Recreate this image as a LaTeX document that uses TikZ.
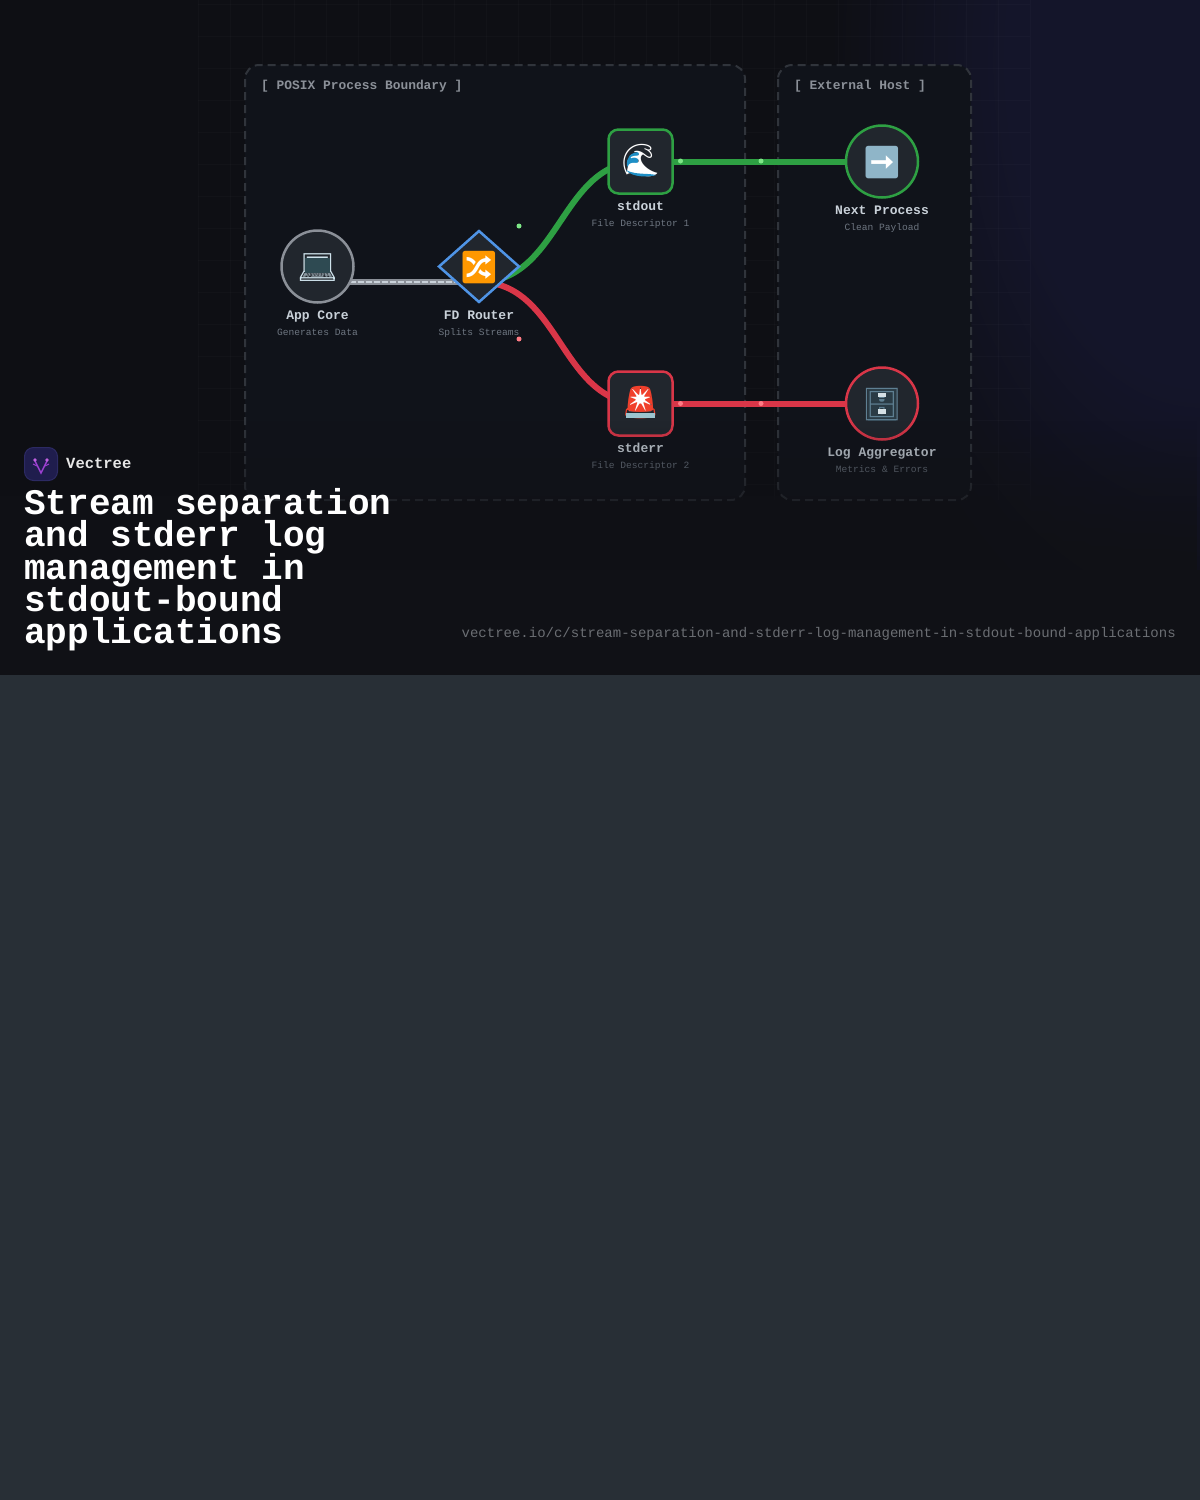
\documentclass[tikz,border=0pt]{standalone}
\usepackage{fontspec}
\setmonofont{Liberation Mono}
\newfontfamily\emojifont{Noto Emoji}
\usetikzlibrary{shapes.geometric,fadings,backgrounds}
\lineskiplimit=-100pt
\definecolor{pagebase}{HTML}{282F36}
\definecolor{panel}{HTML}{0E0F14}
\definecolor{panelend}{HTML}{101116}
\definecolor{glow}{HTML}{14152A}
\definecolor{groupfill}{HTML}{10131A}
\definecolor{groupline}{HTML}{30343B}
\definecolor{nodefill}{HTML}{21262D}
\definecolor{greyc}{HTML}{8B9098}
\definecolor{bluec}{HTML}{4F94E6}
\definecolor{greenc}{HTML}{2EA043}
\definecolor{redc}{HTML}{D93648}
\definecolor{greendot}{HTML}{7EE787}
\definecolor{reddot}{HTML}{FF7B85}
\definecolor{labelc}{HTML}{C9D1D9}
\definecolor{subc}{HTML}{6E7681}
\definecolor{screenc}{HTML}{2E4A52}
\definecolor{laptopc}{HTML}{CFE3EC}
\definecolor{orangec}{HTML}{FF9800}
\definecolor{wavec}{HTML}{1E8FC6}
\definecolor{arrowbox}{HTML}{8FB5C8}
\definecolor{sirenc}{HTML}{F0402C}
\definecolor{sirenbase}{HTML}{9CC4CF}
\definecolor{cabinetc}{HTML}{5F8093}
\definecolor{cabinetd}{HTML}{2A3B45}
\definecolor{cabinetl}{HTML}{D5E0E5}
\definecolor{logofill}{HTML}{1F1D4D}
\definecolor{logoline}{HTML}{2C2A63}
\definecolor{logov}{HTML}{9B3FD0}
\definecolor{logodot}{HTML}{C060E0}
\definecolor{brandc}{HTML}{E6E6E6}
\definecolor{urlc}{HTML}{6B6E73}
\pgfdeclareradialshading{glowshade}{\pgfpointorigin}{color(0bp)=(glow); color(13bp)=(glow); color(25bp)=(panel); color(50bp)=(panel)}
\pgfdeclarelayer{bgl}\pgfdeclarelayer{edgel}\pgfdeclarelayer{veil}\pgfdeclarelayer{topl}
\pgfsetlayers{bgl,edgel,main,veil,topl}
\tikzset{
  circnode/.style={circle,draw=#1,fill=nodefill,line width=2.5pt,minimum size=72pt,inner sep=0pt},
  squarenode/.style={rectangle,rounded corners=10pt,draw=#1,fill=nodefill,line width=2.5pt,minimum size=64pt,inner sep=0pt},
  diamondnode/.style={diamond,draw=#1,fill=nodefill,line width=2.5pt,minimum width=81pt,minimum height=72pt,inner sep=0pt,aspect=1.12},
  emo/.style={font=\emojifont\fontsize{32}{32}\selectfont,inner sep=0pt},
  lab/.style={font=\ttfamily\bfseries\fontsize{13}{13}\selectfont,text=labelc,inner sep=0pt,anchor=base},
  sublab/.style={font=\ttfamily\fontsize{9.6}{10}\selectfont,text=subc,inner sep=0pt,anchor=base},
  grp/.style={draw=groupline,fill=groupfill,line width=2pt,rounded corners=14pt,dash pattern=on 8pt off 5pt},
  grplab/.style={font=\ttfamily\bfseries\fontsize{12.9}{14}\selectfont,text=greyc,inner sep=0pt,anchor=base west},
  flow/.style={line width=6pt,draw=#1},
  gridline/.style={white,opacity=.018,line width=.7pt},
}
\begin{document}
\begin{tikzpicture}[x=1pt,y=-1pt]
\useasboundingbox (0,0) rectangle (1200,1500);
\begin{pgfonlayer}{bgl}
\fill[panel] (0,0) rectangle (1200,675);
\begin{scope}
\clip (0,0) rectangle (1200,675);
\shade[shading=glowshade,shift={(1200,60)}] (0,0) ellipse [x radius=370pt,y radius=620pt];
\end{scope}
\foreach \gx in {198,230,...,1030}{\draw[gridline] (\gx,0) -- (\gx,500);}
\foreach \gy in {4,36,...,500}{\draw[gridline] (198,\gy) -- (1030,\gy);}
\draw[grp] (245,65) rectangle (745,500);
\draw[grp] (778,65) rectangle (971,500);
\node[grplab] (posix) at (261,89) {[ POSIX Process Boundary ]};
\node[grplab] (exthost) at (794,89) {[ External Host ]};
\end{pgfonlayer}

% nodes
\node[circnode=greyc] (app) at (317.5,266.5) {};
\node[diamondnode=bluec] (router) at (479,266.5) {};
\node[squarenode=greenc] (stdout) at (640.5,161.5) {};
\node[squarenode=redc] (stderr) at (640.5,403.5) {};
\node[circnode=greenc] (next) at (882,161.5) {};
\node[circnode=redc] (logs) at (882,403.5) {};

% icon backings
\fill[white] (466,255) rectangle (492,281);
\fill[wavec] (627,166) .. controls (635,176) and (650,176) .. (656,174) .. controls (640,170) and (634,160) .. (640,152) .. controls (630,152) and (626,158) .. (627,166);
\fill[white] (868,150) rectangle (896,176);
\fill[white] (631,389) -- (649,389) -- (651,411) -- (629,411) -- cycle;
\fill[cabinetd] (868,389) rectangle (896,421);

% icons
\node[emo,text=laptopc] (iapp) at (317.5,268) {💻};
\node[emo,text=orangec] (irouter) at (479,268) {🔀};
\node[emo,text=white] (iout) at (640.5,161) {🌊};
\node[emo,text=arrowbox] (inext) at (882,163) {➡};
\node[emo,text=sirenc] (ierr) at (640.5,403) {🚨};
\node[emo,text=cabinetc] (ilogs) at (882,405) {🗄};

% icon details over the glyphs
\fill[screenc] (305,257.5) rectangle (330,273);
\fill[wavec] (626,170) .. controls (634,175) and (648,173) .. (656,175) .. controls (650,177) and (632,178) .. (626,170) -- cycle;
\fill[sirenbase] (626,412.5) rectangle (655,418);
\fill[cabinetl] (878,392.5) rectangle (886,397);
\fill[cabinetl] (878,409) rectangle (886,413.5);

% labels
\node[lab] (lapp) at (317.5,319.5) {App Core};
\node[sublab] (sapp) at (317.5,335) {Generates Data};
\node[lab] (lrouter) at (479,319.5) {FD Router};
\node[sublab] (srouter) at (479,335) {Splits Streams};
\node[lab] (lout) at (640.5,210.5) {stdout};
\node[sublab] (sout) at (640.5,226) {File Descriptor 1};
\node[lab] (lerr) at (640.5,452.5) {stderr};
\node[sublab] (serr) at (640.5,468) {File Descriptor 2};
\node[lab] (lnext) at (882,214.5) {Next Process};
\node[sublab] (snext) at (882,230) {Clean Payload};
\node[lab] (llogs) at (882,456.5) {Log Aggregator};
\node[sublab] (slogs) at (882,472) {Metrics \& Errors};

% edges
\begin{pgfonlayer}{edgel}
\draw[line width=6.5pt,greyc] ([yshift=-15.5pt]app.center) -- ([yshift=-15.5pt]router.center);
\draw[line width=1.5pt,labelc,dash pattern=on 6pt off 2pt] ([yshift=-15.5pt]app.center) -- ([yshift=-15.5pt]router.center);
\draw[flow=greenc] ([yshift=-15.5pt]router.center) .. controls +(81,0) and +(-80,0) .. (stdout.center);
\draw[flow=redc] ([yshift=-15.5pt]router.center) .. controls +(81,0) and +(-80,0) .. (stderr.center);
\draw[flow=greenc] (stdout.center) -- (next.center);
\draw[flow=redc] (stderr.center) -- (logs.center);
\end{pgfonlayer}
\fill[greendot] (680.5,161) circle (2.5);
\fill[greendot] (761,161) circle (2.5);
\fill[greendot] (519,226) circle (2.5);
\fill[reddot] (680.5,403.5) circle (2.5);
\fill[reddot] (761,403.5) circle (2.5);
\fill[reddot] (519,339) circle (2.5);

% bottom veil
\begin{pgfonlayer}{veil}
\fill[panelend,path fading=north] (0,420) rectangle (1200,570);
\fill[panelend] (0,570) rectangle (1200,675);
\fill[pagebase] (0,675) rectangle (1200,1500);
\end{pgfonlayer}

\begin{pgfonlayer}{topl}
\fill[logofill,draw=logoline,line width=1pt,rounded corners=9pt] (24.5,447.5) rectangle (57.5,480.5);
\coordinate (vb) at (41,473);
\draw[logov,line width=1.4pt] (35,461) -- (vb) -- (47,461);
\draw[logov,line width=1pt] (33,464) -- (37,466) (49,464) -- (45,466);
\fill[logodot] (35,460) circle (1.8) (47,460) circle (1.8);
\node[font=\ttfamily\bfseries\fontsize{15.5}{16}\selectfont,text=brandc,inner sep=0pt,anchor=base west] (brand) at (66,468) {Vectree};
\node[font=\ttfamily\bfseries\fontsize{36}{32.4}\selectfont,text=white,inner sep=0pt,anchor=north west,align=left] (title) at (24,488) {Stream separation\\and stderr log\\management in\\stdout-bound\\applications};
\node[font=\ttfamily\fontsize{14}{14}\selectfont,text=urlc,inner sep=0pt,anchor=base east] (url) at (1176,637) {vectree.io/c/stream-separation-and-stderr-log-management-in-stdout-bound-applications};
\end{pgfonlayer}
\end{tikzpicture}
\end{document}
